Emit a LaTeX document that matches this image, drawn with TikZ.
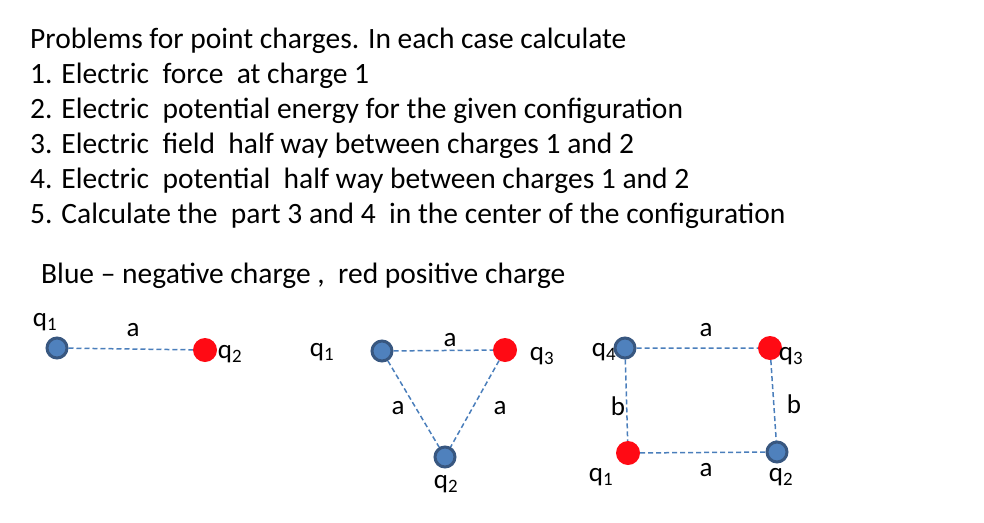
\documentclass[tikz,border=0pt]{standalone}
\usepackage{fontspec}
\setmainfont{Carlito}
\definecolor{bfill}{RGB}{79,129,189}
\definecolor{bline}{RGB}{56,87,128}
\definecolor{rfill}{RGB}{255,10,20}
\definecolor{dashcol}{RGB}{74,126,187}
\newcommand{\qs}[1]{q\textsubscript{#1}}
\begin{document}
\begin{tikzpicture}[x=1pt,y=-1pt,font=\fontsize{29.5}{35}\selectfont,
  negcharge/.style={circle,fill=bfill,draw=bline,line width=3pt,minimum size=20pt,inner sep=0pt},
  poscharge/.style={circle,fill=rfill,minimum size=24pt,inner sep=0pt},
  link/.style={draw=dashcol,dash pattern=on 5pt off 3pt,line width=1.5pt},
  lbl/.style={inner sep=0pt,font=\fontsize{27}{30}\selectfont}]
\useasboundingbox (0,0) rectangle (984,522);
\node[anchor=west,align=left,inner sep=0pt] (txt) at (30,128) {Problems for point charges. In each case calculate\\
1. Electric\ \ force\ \ at charge 1\\
2. Electric\ \ potential energy for the given configuration\\
3. Electric\ \ field\ \ half way between charges 1 and 2\\
4. Electric\ \ potential\ \ half way between charges 1 and 2\\
5. Calculate the\ \ part 3 and 4\ \ in the center of the configuration};
\node[anchor=west,inner sep=0pt] (leg) at (41,276) {Blue -- negative charge ,\ \ red positive charge};
% pair
\node[negcharge] (a1) at (57,348) {};
\node[poscharge] (a2) at (205,350) {};
\draw[link] (a1) -- (a2);
\node[lbl] at (45,322) {\qs1};
\node[lbl] at (133,330) {a};
\node[lbl] at (230,354) {\qs2};
% triangle
\node[negcharge] (t1) at (382,351) {};
\node[poscharge] (t3) at (505,350) {};
\node[negcharge] (t2) at (445,457) {};
\draw[link] (t1) -- (t3) (t1) -- (t2) (t3) -- (t2);
\node[lbl] at (322,352) {\qs1};
\node[lbl] at (450,340) {a};
\node[lbl] at (542,356) {\qs3};
\node[lbl] at (398,408) {a};
\node[lbl] at (500,408) {a};
\node[lbl] at (446,484) {\qs2};
% rectangle
\node[negcharge] (s4) at (625,348) {};
\node[poscharge] (s3) at (770,348) {};
\node[poscharge] (s1) at (628,453) {};
\node[negcharge] (s2) at (777,452) {};
\draw[link] (s4) -- (s3) (s4) -- (s1) (s3) -- (s2) (s1) -- (s2);
\node[lbl] at (604,352) {\qs4};
\node[lbl] at (706,330) {a};
\node[lbl] at (791,356) {\qs3};
\node[lbl] at (618,406) {b};
\node[lbl] at (794,404) {b};
\node[lbl] at (601,477) {\qs1};
\node[lbl] at (706,470) {a};
\node[lbl] at (781,477) {\qs2};
\end{tikzpicture}
\end{document}
